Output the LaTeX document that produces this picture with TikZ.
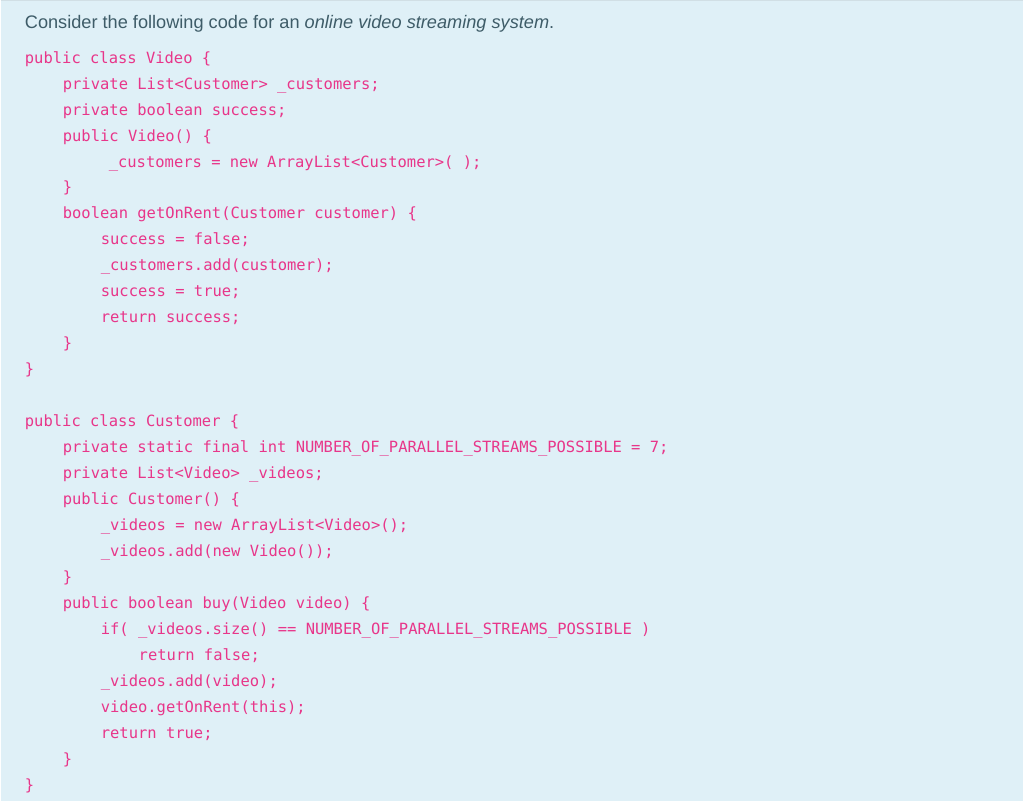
\documentclass[tikz,border=0pt]{standalone}
\usepackage{fontspec}
\setmainfont{Liberation Sans}
\newfontfamily\codefont{DejaVu Sans Mono}
\definecolor{bgc}{HTML}{DFF0F7}
\definecolor{codec}{HTML}{E8368A}
\definecolor{headc}{HTML}{3E5C68}
\begin{document}
\begin{tikzpicture}[x=1pt,y=-1pt,
  code/.style={anchor=base west,inner sep=0,text=codec,font=\codefont\fontsize{15.5}{18}\selectfont},
  head/.style={anchor=base west,inner sep=0,text=headc,font=\fontsize{18.2}{21}\selectfont}]
\fill[bgc] (0,0) rectangle (1024,802);
\draw[line width=1.5pt,color=bgc!85!gray] (0,0.5) -- (1024,0.5);
\node[head] (h) at (24,28) {Consider the following code for an \textit{online video streaming system}.};
\node[code] (l1) at (24,63) {public class Video \{};
\node[code] (l2) at (62,89) {private List<Customer> \_customers;};
\node[code] (l3) at (62,115) {private boolean success;};
\node[code] (l4) at (62,141) {public Video() \{};
\node[code] (l5) at (108,167) {\_customers = new ArrayList<Customer>( );};
\node[code] (l6) at (62,193) {\}};
\node[code] (l7) at (62,219) {boolean getOnRent(Customer customer) \{};
\node[code] (l8) at (100,245) {success = false;};
\node[code] (l9) at (100,271) {\_customers.add(customer);};
\node[code] (l10) at (100,297) {success = true;};
\node[code] (l11) at (100,323) {return success;};
\node[code] (l12) at (62,349) {\}};
\node[code] (l13) at (24,375) {\}};
\node[code] (l14) at (24,427) {public class Customer \{};
\node[code] (l15) at (62,453) {private static final int NUMBER\_OF\_PARALLEL\_STREAMS\_POSSIBLE = 7;};
\node[code] (l16) at (62,479) {private List<Video> \_videos;};
\node[code] (l17) at (62,505) {public Customer() \{};
\node[code] (l18) at (100,531) {\_videos = new ArrayList<Video>();};
\node[code] (l19) at (100,557) {\_videos.add(new Video());};
\node[code] (l20) at (62,583) {\}};
\node[code] (l21) at (62,609) {public boolean buy(Video video) \{};
\node[code] (l22) at (100,635) {if( \_videos.size() == NUMBER\_OF\_PARALLEL\_STREAMS\_POSSIBLE )};
\node[code] (l23) at (138,661) {return false;};
\node[code] (l24) at (100,687) {\_videos.add(video);};
\node[code] (l25) at (100,713) {video.getOnRent(this);};
\node[code] (l26) at (100,739) {return true;};
\node[code] (l27) at (62,765) {\}};
\node[code] (l28) at (24,791) {\}};
\end{tikzpicture}
\end{document}
